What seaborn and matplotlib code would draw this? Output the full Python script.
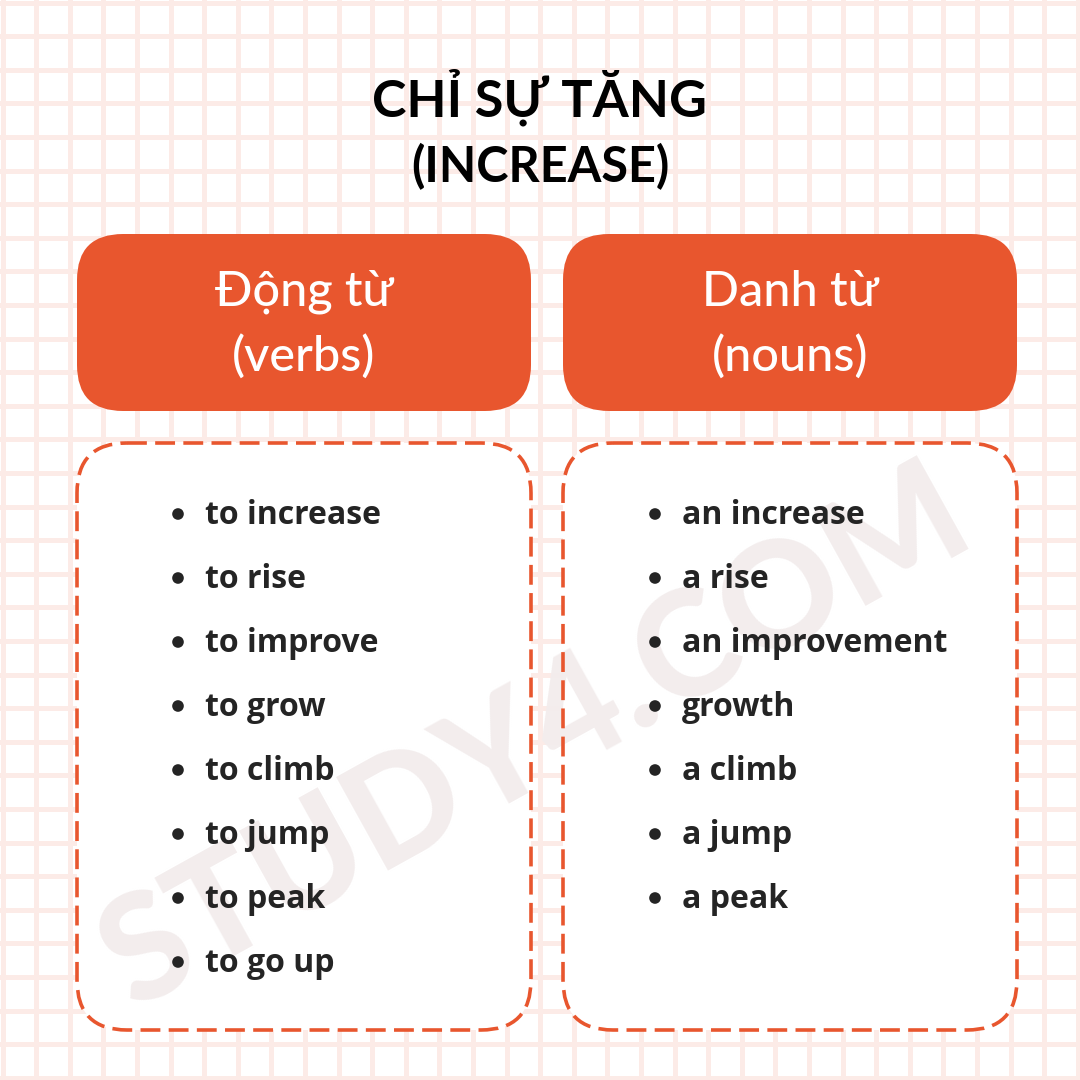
import numpy as np
import pandas as pd
import matplotlib
matplotlib.use("Agg")
import matplotlib.pyplot as plt
from matplotlib.patches import FancyBboxPatch
import seaborn as sns

# nội dung
title_line1 = "CHỈ SỰ TĂNG"
title_line2 = "(INCREASE)"
header_left = ["Động từ", "(verbs)"]
header_right = ["Danh từ", "(nouns)"]
verbs = ["to increase", "to rise", "to improve", "to grow",
         "to climb", "to jump", "to peak", "to go up"]
nouns = ["an increase", "a rise", "an improvement", "growth",
         "a climb", "a jump", "a peak"]
watermark = "STUDY4.COM"

ORANGE = "#e8562e"
GRID = "#fcebe7"
INK = "#242424"

sns.set_theme(style="white")
plt.rcParams["font.family"] = ["Lato", "Noto Sans", "DejaVu Sans"]

W = 1080
fig = plt.figure(figsize=(10.8, 10.8), dpi=100)
ax = fig.add_axes([0, 0, 1, 1])
ax.set_xlim(0, W)
ax.set_ylim(W, 0)

# nền lưới kẻ ô
grid_pos = 2.5 + 33.6 * np.arange(33)
ax.set_xticks(grid_pos)
ax.set_yticks(grid_pos)
ax.tick_params(length=0, labelbottom=False, labelleft=False)
ax.grid(True, color=GRID, linewidth=3.6)
ax.set_axisbelow(True)
for s in ax.spines.values():
    s.set_visible(False)

# tiêu đề
ax.text(540, 97, title_line1, ha="center", va="center", fontsize=37.5,
        fontweight="bold", color="black")
ax.text(540, 167, title_line2, ha="center", va="center", fontsize=35,
        fontweight="bold", color="black")

# hộp tiêu đề cột
col_x = [77, 563]
bullet_off = [101, 92]
box_w = 454
for x0, lines in zip(col_x, [header_left, header_right]):
    ax.add_patch(FancyBboxPatch((x0, 234), box_w, 177,
                                boxstyle="round,pad=0,rounding_size=46",
                                fc=ORANGE, ec="none", zorder=2))
    cx = x0 + box_w / 2
    ax.text(cx, 292, lines[0], ha="center", va="center", fontsize=35,
            color="white", fontweight="medium", zorder=3)
    ax.text(cx, 356, lines[1], ha="center", va="center", fontsize=35,
            color="white", fontweight="medium", zorder=3)

# hộp danh sách (viền nét đứt)
for x0 in col_x:
    ax.add_patch(FancyBboxPatch((x0, 443), box_w, 587,
                                boxstyle="round,pad=0,rounding_size=50",
                                fc="white", ec="none", zorder=2))
    ax.add_patch(FancyBboxPatch((x0, 443), box_w, 587,
                                boxstyle="round,pad=0,rounding_size=50",
                                fc="none", ec=ORANGE, lw=2.6,
                                linestyle=(0, (5.5, 2.3)), zorder=5))

# watermark
ax.text(535, 738, watermark, ha="center", va="center", rotation=29,
        rotation_mode="anchor", fontsize=106, fontweight="black",
        color="#f3eded", zorder=4)

# danh sách
row_y0, row_step = 514, 64
for x0, off, items in zip(col_x, bullet_off, [verbs, nouns]):
    bx = x0 + off
    df = pd.DataFrame({"x": [bx] * len(items),
                       "y": row_y0 + row_step * np.arange(len(items))})
    sns.scatterplot(data=df, x="x", y="y", ax=ax, s=70, color=INK,
                    edgecolor="none", zorder=6, legend=False)
    for yy, item in zip(df["y"], items):
        ax.text(bx + 27, yy + 2, item, ha="left", va="center", fontsize=23,
                fontweight="bold", color=INK, zorder=6,
                family=["Open Sans", "DejaVu Sans"])

ax.set_xlabel("")
ax.set_ylabel("")
fig.savefig("out.png", dpi=100, facecolor="white")
